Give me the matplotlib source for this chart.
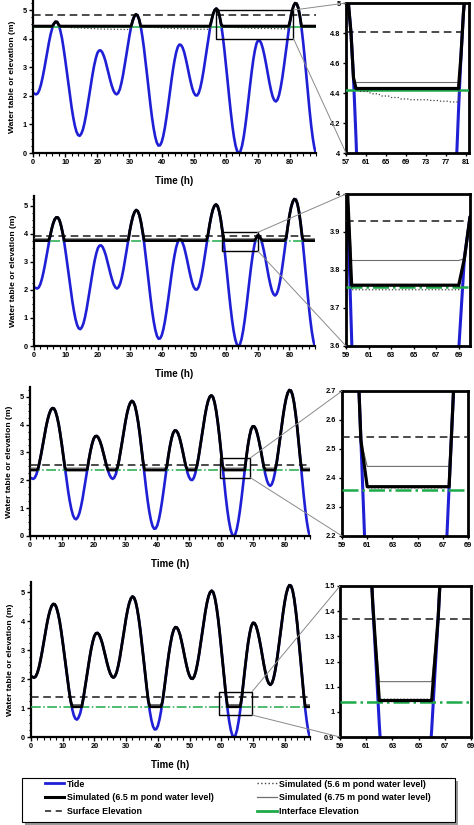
import numpy as np
import matplotlib
matplotlib.use("Agg")
import matplotlib.pyplot as plt
from matplotlib.patches import Rectangle, ConnectionPatch
from matplotlib.lines import Line2D
from matplotlib.ticker import MultipleLocator, FormatStrFormatter

# ================================
# DATA
# ================================
tide_time = np.arange(0, 88.5, 0.5)  # hours, half-hour steps
tide = [
    2.10, 2.07, 2.05, 2.09, 2.21, 2.40, 2.65, 2.94, 3.26, 3.58,
    3.89, 4.16, 4.37, 4.52, 4.59, 4.58, 4.48, 4.28, 4.02, 3.67,
    3.28, 2.86, 2.43, 2.00, 1.60, 1.25, 0.96, 0.75, 0.63, 0.60,
    0.67, 0.81, 1.04, 1.33, 1.67, 2.03, 2.39, 2.74, 3.05, 3.30,
    3.49, 3.58, 3.59, 3.53, 3.40, 3.23, 3.01, 2.78, 2.55, 2.35,
    2.19, 2.09, 2.05, 2.10, 2.23, 2.45, 2.73, 3.06, 3.41, 3.77,
    4.11, 4.40, 4.63, 4.78, 4.85, 4.81, 4.67, 4.42, 4.08, 3.67,
    3.20, 2.70, 2.20, 1.70, 1.25, 0.87, 0.57, 0.36, 0.26, 0.27,
    0.38, 0.59, 0.88, 1.24, 1.64, 2.07, 2.49, 2.89, 3.23, 3.51,
    3.70, 3.79, 3.78, 3.69, 3.53, 3.30, 3.04, 2.76, 2.50, 2.27,
    2.11, 2.02, 2.01, 2.09, 2.27, 2.53, 2.85, 3.22, 3.60, 3.98,
    4.33, 4.63, 4.86, 5.00, 5.05, 4.99, 4.80, 4.50, 4.10, 3.62,
    3.09, 2.53, 1.96, 1.43, 0.95, 0.55, 0.25, 0.06, 0.00, 0.06,
    0.25, 0.55, 0.93, 1.38, 1.88, 2.37, 2.84, 3.26, 3.59, 3.83,
    3.94, 3.93, 3.83, 3.64, 3.39, 3.10, 2.78, 2.47, 2.20, 1.98,
    1.85, 1.80, 1.86, 2.02, 2.28, 2.61, 3.01, 3.44, 3.87, 4.28,
    4.65, 4.94, 5.14, 5.24, 5.22, 5.07, 4.78, 4.37, 3.88, 3.31,
    2.70, 2.08, 1.49, 0.96, 0.52, 0.18, -0.03,
]

# one value per panel (top to bottom)
surface_elev = [4.81, 3.93, 2.54, 1.37]
interface_elev = [4.42, 3.755, 2.36, 1.04]
sim65_level = [4.43, 3.76, 2.37, 1.045]
sim675_level = [4.47, 3.825, 2.44, 1.12]
sim56_level = [4.42, 3.748, 2.366, 1.05]

# 5.6 m run in the top panel drains slowly between floods (2-hourly levels)
p1_sim56_recess = [
    4.42, 4.42, 4.42, 4.42, 4.42, 4.40, 4.38, 4.37, 4.36, 4.35,
    4.34, 4.335, 4.33, 4.325, 4.32, 4.315, 4.42, 4.42, 4.40, 4.385,
    4.37, 4.36, 4.35, 4.345, 4.34, 4.335, 4.33, 4.325, 4.32, 4.42,
    4.41, 4.395, 4.38, 4.37, 4.36, 4.355, 4.355, 4.35, 4.345, 4.34,
    4.335, 4.42, 4.42, 4.41, 4.40,
]

zoom_xlim = [(57, 81.6), (59, 70), (59, 69), (59, 69)]
zoom_ylim = [(4.0, 5.0), (3.6, 4.0), (2.2, 2.7), (0.9, 1.5)]
zoom_xstep = [4, 2, 2, 2]
zoom_ystep = [0.2, 0.1, 0.1, 0.1]
# box drawn on the main panel: x0, y0, x1, y1
zoom_box = [(57, 4.0, 81, 5.0), (59, 3.4, 70, 4.05), (59.7, 2.1, 69.2, 2.8), (59.4, 0.76, 69.7, 1.56)]

legend_labels = [
    'Tide',
    'Simulated (6.5 m pond water level)',
    'Surface Elevation',
    'Simulated (5.6 m pond water level)',
    'Simulated (6.75 m pond water level)',
    'Interface Elevation',
]

# ================================
# STYLE / LAYOUT
# ================================
plt.rcParams['font.family'] = ['Liberation Sans', 'DejaVu Sans']
plt.rcParams['font.weight'] = 'bold'

W, H = 474, 825
BLUE = '#1f1fd6'
GREEN = '#1faa4a'

# axes boxes in pixels: x0, x1, ytop, ybottom
left_px = [(33, 316, 0, 153), (34, 315, 196, 346), (30, 310, 387, 536), (31, 310, 582, 737)]
right_px = [(346, 469, 3, 153), (346, 470, 194, 346), (342, 468, 391, 536), (340, 471, 586, 737)]


def px_rect(x0, x1, yt, yb):
    return [x0 / W, 1 - yb / H, (x1 - x0) / W, (yb - yt) / H]


def draw_lines(ax, i, sim56, zoomed):
    lw_big = 2.2 if zoomed else 1.9
    ax.plot(tide_time, tide, color=BLUE, lw=lw_big, zorder=2)
    ax.axhline(surface_elev[i], color='#1a1a1a', ls=(0, (5, 3)), lw=1.1, zorder=3)
    ax.axhline(interface_elev[i], color=GREEN, ls='-' if i == 0 else '-.',
               lw=1.8 if zoomed else 1.1, zorder=3)
    ax.plot(tide_time, sim56, ls=':', color='#444444', lw=0.9, zorder=4)
    ax.plot(tide_time, np.maximum(tide, sim675_level[i]), color='#6e6e6e', lw=0.8, zorder=4)
    ax.plot(tide_time, np.maximum(tide, sim65_level[i]), color='black', lw=lw_big + 0.1, zorder=5)


fig = plt.figure(figsize=(W / 100, H / 100), dpi=100)

for i in range(4):
    tide_arr = np.array(tide)
    if i == 0:
        lvl = np.repeat(p1_sim56_recess, 4)[:len(tide_arr)]
    else:
        lvl = sim56_level[i]
    sim56 = np.maximum(tide_arr, lvl)

    # main panel
    ax = fig.add_axes(px_rect(*left_px[i]))
    draw_lines(ax, i, sim56, False)
    ax.set_xlim(0, 88)
    ax.set_ylim(0, 5.35)
    ax.xaxis.set_major_locator(MultipleLocator(10))
    ax.xaxis.set_minor_locator(MultipleLocator(2))
    ax.yaxis.set_major_locator(MultipleLocator(1))
    ax.yaxis.set_minor_locator(MultipleLocator(0.25))
    ax.tick_params(which='major', direction='out', length=3, width=1, labelsize=5.3, pad=1.5)
    ax.tick_params(which='minor', direction='out', length=1.8, width=0.8)
    for s in ('top', 'right'):
        ax.spines[s].set_visible(False)
    for s in ('left', 'bottom'):
        ax.spines[s].set_linewidth(1.6)
    ax.set_xlabel('Time (h)', fontsize=7, fontweight='bold', labelpad=7)
    ax.set_ylabel('Water table or elevation (m)', fontsize=6.1, fontweight='bold', labelpad=5)

    x0, y0, x1, y1 = zoom_box[i]
    ax.add_patch(Rectangle((x0, y0), x1 - x0, y1 - y0, fill=False, ec='black', lw=1.0, zorder=6))

    # zoomed panel
    axz = fig.add_axes(px_rect(*right_px[i]))
    draw_lines(axz, i, sim56, True)
    axz.set_xlim(*zoom_xlim[i])
    axz.set_ylim(*zoom_ylim[i])
    axz.xaxis.set_major_locator(MultipleLocator(zoom_xstep[i], offset=zoom_xlim[i][0]))
    axz.yaxis.set_major_locator(MultipleLocator(zoom_ystep[i]))
    axz.yaxis.set_major_formatter(FormatStrFormatter('%g'))
    axz.tick_params(direction='out', length=2.5, width=1, labelsize=5.3, pad=1.5)
    for s in axz.spines.values():
        s.set_linewidth(2.0)

    # connector lines from the box to the zoomed panel
    for ya, yb in ((y1, 1), (y0, 0)):
        con = ConnectionPatch(xyA=(x1, ya), coordsA=ax.transData,
                              xyB=(0, yb), coordsB=axz.transAxes,
                              color='#8a8a8a', lw=0.7)
        fig.add_artist(con)

# ================================
# LEGEND (box with drop shadow drawn by hand)
# ================================
bx0, bx1, by0, by1 = 22, 455, 778, 822
fig.add_artist(Rectangle(((bx0 + 3) / W, 1 - (by1 + 3) / H), (bx1 - bx0) / W, (by1 - by0) / H,
                         transform=fig.transFigure, fc='#9a9a9a', ec='none', zorder=1))
fig.add_artist(Rectangle((bx0 / W, 1 - by1 / H), (bx1 - bx0) / W, (by1 - by0) / H,
                         transform=fig.transFigure, fc='white', ec='black', lw=0.8, zorder=2))

handles = [
    Line2D([], [], color=BLUE, lw=2),
    Line2D([], [], color='black', lw=2.2),
    Line2D([], [], color='#1a1a1a', ls=(0, (4, 3)), lw=1.1),
    Line2D([], [], color='#444444', ls=':', lw=1),
    Line2D([], [], color='#6e6e6e', lw=0.9),
    Line2D([], [], color=GREEN, lw=2),
]
leg = fig.legend(handles, legend_labels, ncol=2, loc='upper left',
                 bbox_to_anchor=(41 / W, 1 - 776 / H),
                 fontsize=6.4, frameon=False, handlelength=2.2, handletextpad=0.3,
                 labelspacing=0.55, columnspacing=4.9, borderpad=0.4, borderaxespad=0)
leg.set_zorder(3)

fig.savefig('out.png', dpi=100)
